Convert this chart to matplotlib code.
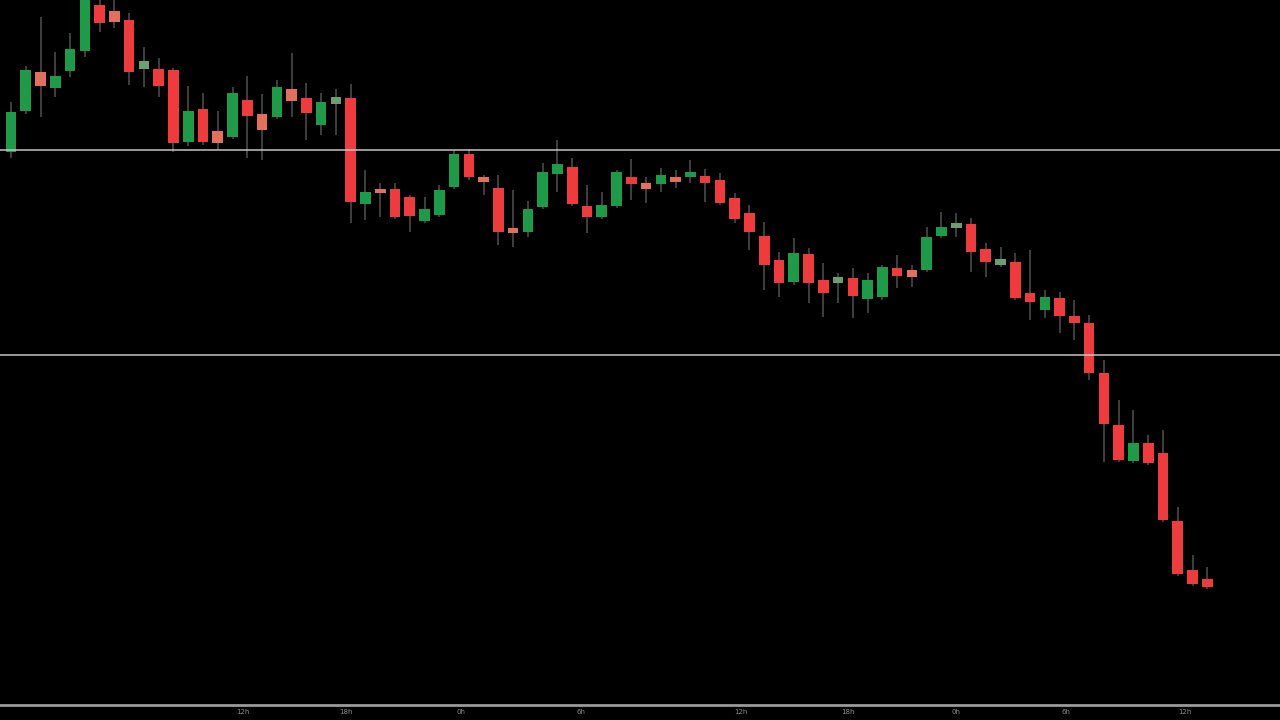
import numpy as np
import matplotlib
matplotlib.use("Agg")
import matplotlib.pyplot as plt

# candle data (open, high, low, close)
opens = [568, 609, 648, 632, 649, 669, 715, 709, 700, 651, 651, 650, 578, 611, 589, 583, 620, 606, 603, 631,
         622, 595, 616, 622, 516, 531, 531, 523, 499, 505, 533, 566, 543, 532, 492, 488, 513, 546, 553, 514,
         503, 514, 543, 537, 536, 543, 543, 544, 540, 522, 507, 484, 460, 438, 466, 440, 437, 442, 421, 423,
         452, 450, 450, 484, 492, 496, 471, 455, 458, 427, 410, 422, 404, 397, 347, 295, 259, 277, 267, 199,
         150, 141]
highs = [618, 654, 703, 668, 687, 735, 723, 722, 707, 673, 662, 652, 634, 627, 609, 633, 644, 626, 640, 667,
         637, 627, 631, 636, 550, 537, 537, 525, 523, 535, 570, 571, 545, 545, 530, 519, 557, 580, 562, 535,
         528, 550, 561, 543, 552, 550, 560, 551, 547, 527, 515, 498, 468, 482, 472, 457, 447, 452, 447, 455,
         465, 455, 493, 508, 507, 502, 477, 473, 467, 470, 430, 428, 420, 405, 360, 320, 310, 285, 290, 213,
         165, 153]
lows = [562, 606, 603, 623, 643, 663, 688, 692, 635, 633, 623, 568, 574, 575, 570, 581, 562, 560, 601, 603,
        580, 585, 585, 497, 500, 503, 501, 488, 497, 503, 531, 540, 525, 475, 473, 483, 511, 528, 514, 487,
        501, 512, 520, 517, 528, 532, 537, 518, 515, 497, 470, 430, 423, 435, 417, 403, 417, 402, 407, 420,
        432, 433, 448, 482, 483, 448, 443, 453, 420, 400, 402, 387, 380, 340, 258, 258, 257, 255, 198, 144,
        134, 131]
closes = [608, 650, 634, 644, 671, 728, 697, 698, 648, 659, 634, 577, 609, 578, 577, 627, 604, 590, 633, 619,
          607, 618, 623, 518, 528, 527, 503, 504, 511, 530, 566, 543, 538, 488, 487, 511, 548, 556, 516, 503,
          515, 548, 536, 531, 545, 538, 548, 537, 517, 501, 488, 455, 437, 467, 437, 427, 443, 424, 440, 453,
          444, 443, 483, 493, 497, 468, 458, 461, 422, 418, 423, 404, 397, 347, 296, 260, 277, 257, 200, 146,
          136, 133]
faded = [2, 7, 9, 14, 17, 19, 22, 25, 32, 34, 43, 45, 56, 61, 64, 67]

levels = [570, 365]
tick_pos = [15.7, 22.7, 30.5, 38.6, 49.4, 56.7, 64.0, 71.4, 79.5]
tick_labels = ["12h", "18h", "0h", "6h", "12h", "18h", "0h", "6h", "12h"]

o = np.array(opens); h = np.array(highs); l = np.array(lows); c = np.array(closes)
x = np.arange(len(o))

cols = []
for i in range(len(o)):
    up = c[i] >= o[i]
    if i in faded:
        cols.append("#6b9e72" if up else "#e2705e")
    else:
        cols.append("#1f9a48" if up else "#ee3b3d")

fig = plt.figure(figsize=(12.8, 7.2), dpi=100, facecolor="black")
ax = fig.add_axes([0, 15/720, 1, 705/720])
ax.set_facecolor("black")

ax.vlines(x, l, h, color="#4a4a4a", lw=1.2, zorder=1)
bot = np.minimum(o, c)
ht = np.maximum(np.abs(c - o), 1.5)
ax.bar(x, ht, bottom=bot, width=0.72, color=cols, zorder=2)

for lv in levels:
    ax.axhline(lv, color="#c8c8c8", lw=1.2, alpha=0.9, zorder=3)

ax.set_xlim(-0.745, 85.92)
ax.set_ylim(15, 720)
for s in ["top", "left", "right"]:
    ax.spines[s].set_visible(False)
ax.spines["bottom"].set_color("#9a9a9a")
ax.spines["bottom"].set_linewidth(2)
ax.set_yticks([])
ax.set_xticks(tick_pos)
ax.set_xticklabels(tick_labels, fontsize=5, color="#8a8a8a")
ax.tick_params(axis="x", length=0, pad=3)

fig.savefig("out.png", dpi=100, facecolor="black")
